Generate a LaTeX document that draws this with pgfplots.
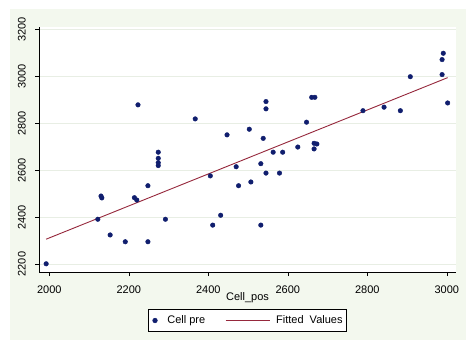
\documentclass[border=0pt]{standalone}
\usepackage{pgfplots}
\pgfplotsset{compat=1.18}
\usepackage{fontspec}
\setmainfont{Liberation Sans}
\definecolor{bgout}{RGB}{243,248,238}
\definecolor{gridc}{RGB}{232,238,228}
\definecolor{dotc}{RGB}{16,30,110}
\definecolor{linec}{RGB}{150,40,60}
\pgfplotsset{
  longline/.style={legend image code/.code={\draw[##1] (0pt,0pt) -- (44pt,0pt);}},
  dotimg/.style={legend image code/.code={\fill[dotc] (0pt,0pt) circle (2.3pt);}},
}
\begin{document}
\fontsize{11}{13}\selectfont
\begin{tikzpicture}[x=1pt,y=1pt]
\useasboundingbox (0,0) rectangle (474,349);
\fill[white] (0,0) rectangle (474,349);
\fill[bgout] (10,9) rectangle (466,340);
\begin{axis}[
  at={(39pt,77pt)}, anchor=south west,
  scale only axis, width=417pt, height=245pt,
  xmin=1974, xmax=3023, ymin=2166, ymax=3211,
  axis lines=left,
  axis line style={black, line width=0.6pt, -},
  axis background/.style={fill=white},
  xtick={2000,2200,...,3000}, ytick={2200,2400,...,3200},
  ymajorgrids, grid style={gridc, line width=0.6pt},
  tick style={black, line width=0.6pt},
  tick align=outside, major tick length=4pt,
  /pgf/number format/assume math mode=true,
  /pgf/number format/set thousands separator={},
  ticklabel style={font=\fontsize{11}{13}\selectfont},
  yticklabel style={xshift=-9pt, rotate=90, anchor=south, inner sep=0pt},
  xticklabel style={anchor=north, inner sep=0pt, yshift=-9.7pt},
  xlabel={Cell\_pos},
  xlabel style={at={(axis description cs:0.5,-0.117)}, anchor=base, font=\fontsize{11}{13}\selectfont},
  legend style={at={(axis description cs:0.5,-0.198)}, anchor=center, draw=black, line width=0.6pt, fill=white,
    font=\fontsize{11}{13}\selectfont, inner xsep=4pt, inner ysep=6pt,
    column sep=0pt, nodes={inner sep=0pt},
    /tikz/every even column/.append style={column sep=20pt}},
  legend columns=2,
]
\addplot[only marks, mark=*, mark size=2.3pt, color=dotc, dotimg] coordinates {
(1992,2201) (2122,2391) (2130,2490) (2132,2482) (2153,2324) (2191,2295)
(2214,2483) (2220,2473) (2223,2879) (2248,2534) (2248,2295) (2274,2677)
(2274,2651) (2274,2632) (2274,2620) (2292,2391) (2367,2819) (2405,2576)
(2411,2366) (2431,2408) (2447,2751) (2470,2615) (2476,2534) (2503,2775)
(2507,2550) (2532,2628) (2532,2366) (2538,2736) (2545,2893) (2545,2862)
(2545,2588) (2563,2677) (2579,2588) (2587,2677) (2625,2699) (2647,2805)
(2660,2911) (2668,2911) (2666,2715) (2673,2712) (2666,2691) (2789,2854)
(2842,2869) (2883,2854) (2908,2999) (2991,3099) (2988,3072) (2988,3008)
(3002,2887)
};
\addlegendentry{\hspace{9.7pt}Cell pre}
\addplot[color=linec, line width=0.9pt, longline] coordinates {(1992,2306) (3002,2995)};
\addlegendentry{\hspace{6pt}Fitted\ \ Values\hspace{6pt}}
\end{axis}
\end{tikzpicture}
\end{document}
